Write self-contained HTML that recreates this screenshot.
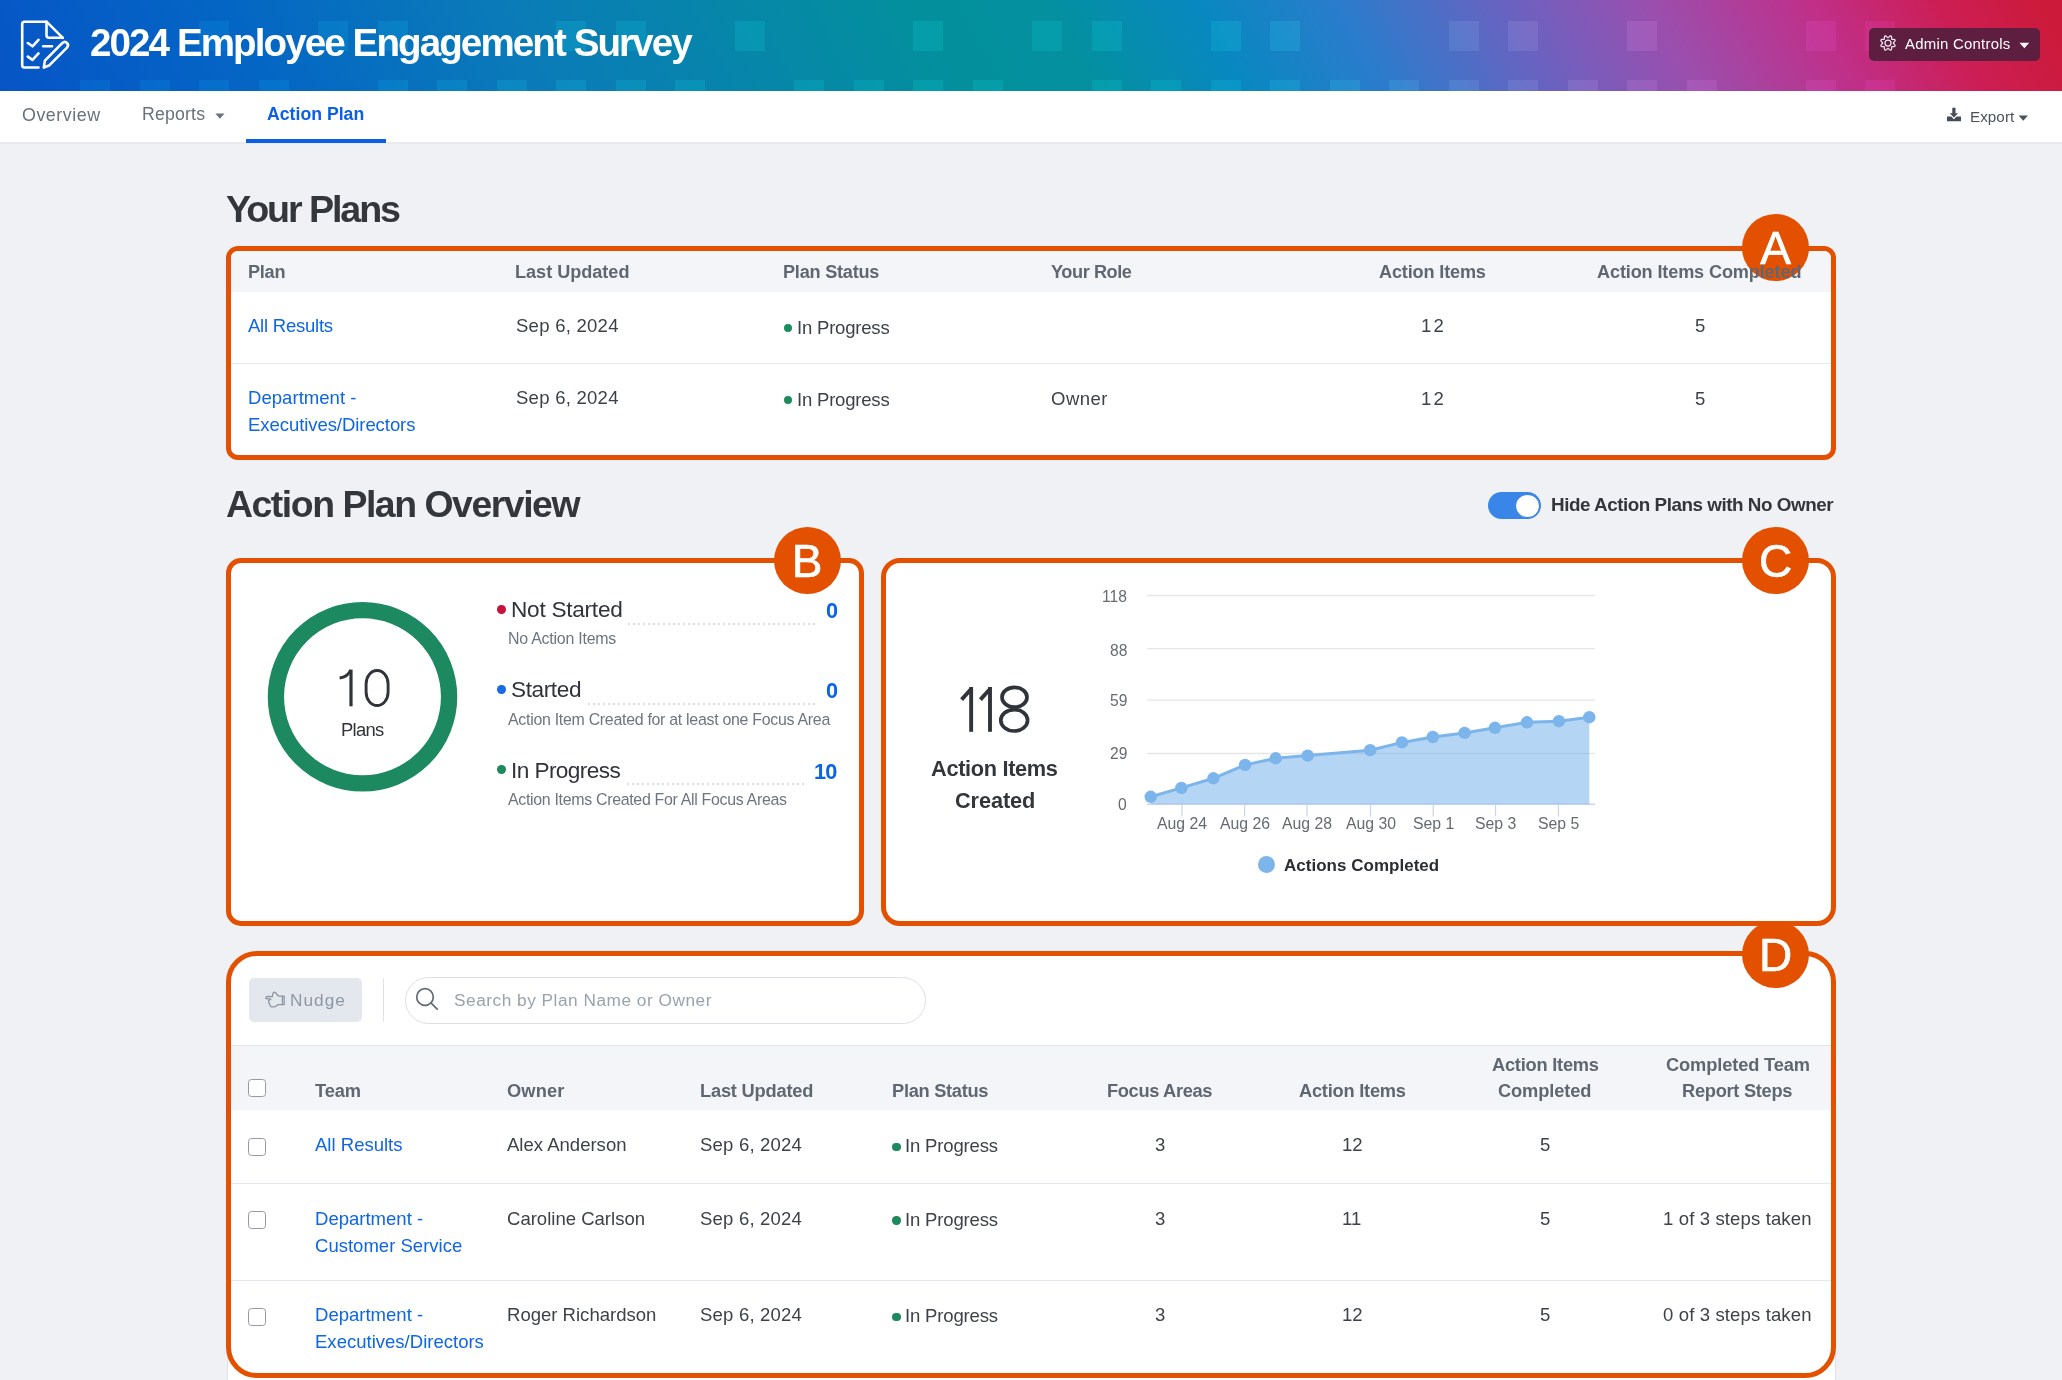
<!DOCTYPE html>
<html><head><meta charset="utf-8"><title>Action Plan</title>
<style>
html,body{margin:0;padding:0;}
body{width:2062px;height:1380px;overflow:hidden;position:relative;background:#eff1f5;font-family:"Liberation Sans",sans-serif;}
.a{position:absolute;box-sizing:border-box;}
.t{position:absolute;white-space:pre;font-family:"Liberation Sans",sans-serif;will-change:transform;}
.sq{position:absolute;width:30px;height:30px;background:rgba(255,255,255,0.12);mix-blend-mode:overlay;}
.ob{position:absolute;box-sizing:border-box;border:5px solid #e35000;}
.badge{position:absolute;width:67px;height:67px;border-radius:50%;background:#e35000;color:#fff;font-family:"Liberation Sans",sans-serif;font-size:46px;text-align:center;line-height:69px;-webkit-text-stroke:0.7px #fff;}
.cb{position:absolute;width:18px;height:18px;box-sizing:border-box;border:1.8px solid #959aa1;border-radius:3.5px;background:#fff;}
.dot{position:absolute;border-radius:50%;}
.lead{position:absolute;height:2px;background-image:linear-gradient(to right,#d9dde2 50%,transparent 50%);background-size:5px 2px;}
</style></head><body>
<!-- header -->
<div class="a" style="left:0;top:0;width:2062px;height:91px;background:linear-gradient(62deg,#0656c6 1%,#0466c4 13%,#0a7bb8 25.8%,#03909c 46%,#04909f 51.8%,#0888c0 58.9%,#2a7ccc 65.6%,#6a62c0 73.6%,#9a4fae 80.3%,#c02f88 88.1%,#cc1e55 94%,#cc1a3a 99%);overflow:hidden">
  <div class="sq" style="left:199.0px;top:21px"></div><div class="sq" style="left:318.0px;top:21px"></div><div class="sq" style="left:377.5px;top:21px"></div><div class="sq" style="left:556.0px;top:21px"></div><div class="sq" style="left:615.5px;top:21px"></div><div class="sq" style="left:734.5px;top:21px"></div><div class="sq" style="left:913.0px;top:21px"></div><div class="sq" style="left:1032.0px;top:21px"></div><div class="sq" style="left:1091.5px;top:21px"></div><div class="sq" style="left:1210.5px;top:21px"></div><div class="sq" style="left:1270.0px;top:21px"></div><div class="sq" style="left:1448.5px;top:21px"></div><div class="sq" style="left:1508.0px;top:21px"></div><div class="sq" style="left:1627.0px;top:21px"></div><div class="sq" style="left:1805.5px;top:21px"></div><div class="sq" style="left:1865.0px;top:21px"></div><div class="sq" style="left:80.0px;top:80px"></div><div class="sq" style="left:139.5px;top:80px"></div><div class="sq" style="left:199.0px;top:80px"></div><div class="sq" style="left:258.5px;top:80px"></div><div class="sq" style="left:377.5px;top:80px"></div><div class="sq" style="left:437.0px;top:80px"></div><div class="sq" style="left:496.5px;top:80px"></div><div class="sq" style="left:556.0px;top:80px"></div><div class="sq" style="left:615.5px;top:80px"></div><div class="sq" style="left:675.0px;top:80px"></div><div class="sq" style="left:794.0px;top:80px"></div><div class="sq" style="left:853.5px;top:80px"></div><div class="sq" style="left:913.0px;top:80px"></div><div class="sq" style="left:972.5px;top:80px"></div><div class="sq" style="left:1091.5px;top:80px"></div><div class="sq" style="left:1151.0px;top:80px"></div><div class="sq" style="left:1210.5px;top:80px"></div><div class="sq" style="left:1270.0px;top:80px"></div><div class="sq" style="left:1329.5px;top:80px"></div><div class="sq" style="left:1389.0px;top:80px"></div><div class="sq" style="left:1448.5px;top:80px"></div><div class="sq" style="left:1508.0px;top:80px"></div><div class="sq" style="left:1567.5px;top:80px"></div><div class="sq" style="left:1627.0px;top:80px"></div><div class="sq" style="left:1686.5px;top:80px"></div><div class="sq" style="left:1805.5px;top:80px"></div><div class="sq" style="left:1865.0px;top:80px"></div>
</div>
<!-- logo -->
<svg class="a" style="left:18px;top:18px" width="54" height="54" viewBox="18 18 54 54">
  <g fill="none" stroke="#fff" stroke-width="2.6" stroke-linecap="round" stroke-linejoin="round">
    <path d="M38.5 67.5 H24.5 Q22.2 67.5 22.2 65.2 V24 Q22.2 21.7 24.5 21.7 H46.5 L62.8 37.8"/>
    <path d="M46.5 21.9 V35.3 Q46.5 37.8 49 37.8 H62.8"/>
    <path d="M27.8 43 L32.5 46.3 L38.5 39.8"/>
    <path d="M27.8 56.6 L32.5 59.9 L38.5 53.4"/>
    <path d="M43.2 46.3 H52"/>
    <path d="M43.8 67.6 L44.9 60.6 L62.2 43.2 Q64.8 40.8 67 43 Q69.2 45.2 66.8 47.8 L49.5 65.2 Z"/>
  </g>
</svg>
<!-- admin button -->
<div class="a" style="left:1869px;top:28px;width:171px;height:33px;border-radius:5px;background:#5d1e40"></div>
<svg class="a" style="left:1879px;top:34.3px" width="18" height="18" viewBox="0 0 18 18">
  <g fill="none" stroke="#f1e6ec" stroke-width="1.25" stroke-linejoin="round">
    <path d="M14.35,9.00 L14.49,9.36 L14.87,9.77 L15.38,10.27 L15.83,10.83 L16.10,11.41 L16.07,11.93 L15.72,12.32 L15.13,12.54 L14.40,12.61 L13.70,12.61 L13.14,12.63 L12.78,12.78 L12.63,13.14 L12.61,13.70 L12.61,14.40 L12.54,15.13 L12.32,15.72 L11.93,16.07 L11.41,16.10 L10.83,15.83 L10.27,15.38 L9.77,14.87 L9.36,14.49 L9.00,14.35 L8.64,14.49 L8.23,14.87 L7.73,15.38 L7.17,15.83 L6.59,16.10 L6.07,16.07 L5.68,15.72 L5.46,15.13 L5.39,14.40 L5.39,13.70 L5.37,13.14 L5.22,12.78 L4.86,12.63 L4.30,12.61 L3.60,12.61 L2.87,12.54 L2.28,12.32 L1.93,11.93 L1.90,11.41 L2.17,10.83 L2.62,10.27 L3.13,9.77 L3.51,9.36 L3.65,9.00 L3.51,8.64 L3.13,8.23 L2.62,7.73 L2.17,7.17 L1.90,6.59 L1.93,6.07 L2.28,5.68 L2.87,5.46 L3.60,5.39 L4.30,5.39 L4.86,5.37 L5.22,5.22 L5.37,4.86 L5.39,4.30 L5.39,3.60 L5.46,2.87 L5.68,2.28 L6.07,1.93 L6.59,1.90 L7.17,2.17 L7.73,2.62 L8.23,3.13 L8.64,3.51 L9.00,3.65 L9.36,3.51 L9.77,3.13 L10.27,2.62 L10.83,2.17 L11.41,1.90 L11.93,1.93 L12.32,2.28 L12.54,2.87 L12.61,3.60 L12.61,4.30 L12.63,4.86 L12.78,5.22 L13.14,5.37 L13.70,5.39 L14.40,5.39 L15.13,5.46 L15.72,5.68 L16.07,6.07 L16.10,6.59 L15.83,7.17 L15.38,7.73 L14.87,8.23 L14.49,8.64 L14.35,9.00Z"/>
    <circle cx="9" cy="9" r="3"/>
  </g>
</svg>
<svg class="a" style="left:2019px;top:42px" width="11" height="7"><path d="M0.5 0.8 H10.2 L5.35 6.2Z" fill="#fff"/></svg>
<!-- nav -->
<div class="a" style="left:0;top:91px;width:2062px;height:53px;background:#fff;border-bottom:2px solid #e8eaee"></div>
<svg class="a" style="left:215px;top:113px" width="10" height="6"><path d="M0.3 0.5 H9.5 L4.9 5.8Z" fill="#6b7380"/></svg>
<div class="a" style="left:246px;top:139px;width:139.5px;height:3.6px;background:#0b5fe3"></div>
<svg class="a" style="left:1946px;top:107px" width="16" height="15" viewBox="0 0 16 15">
  <path d="M6.3 0.8h3.2v5.4h2.6L7.9 10.6 3.7 6.2h2.6z" fill="#464c54"/>
  <path d="M1 9.6h4.2l2.7 2.7 2.7-2.7H15v4.6H1z" fill="#464c54"/>
</svg>
<svg class="a" style="left:2018px;top:115px" width="11" height="7"><path d="M0.5 0.5 H10 L5.25 5.8Z" fill="#4d535a"/></svg>

<!-- ===== box A ===== -->
<div class="ob" style="left:226px;top:246px;width:1610px;height:214px;border-radius:12px;background:#fff;overflow:hidden">
  <div class="a" style="left:0;top:0;width:1600px;height:41px;background:#f4f5f8"></div>
  <div class="a" style="left:0;top:112px;width:1600px;height:1px;background:#e6e8ec"></div>
</div>
<div class="dot" style="left:784px;top:324.2px;width:8px;height:8px;background:#1d8a5c"></div>
<div class="dot" style="left:784px;top:396px;width:8px;height:8px;background:#1d8a5c"></div>
<div class="badge" style="left:1742px;top:214px">A</div>

<!-- toggle -->
<div class="a" style="left:1488px;top:492px;width:53px;height:27px;border-radius:14px;background:#3a86e8"></div>
<div class="a" style="left:1515px;top:493.5px;width:24.5px;height:24.5px;border-radius:50%;background:#fff;border:1px solid #2f7be0"></div>

<!-- ===== box B ===== -->
<div class="ob" style="left:226px;top:558px;width:638px;height:368px;border-radius:15px;background:#fff"></div>
<svg class="a" style="left:262px;top:596px" width="202" height="202" viewBox="0 0 202 202">
  <circle cx="100.5" cy="100.8" r="86.6" fill="none" stroke="#1c8960" stroke-width="16.3"/>
</svg>
<div class="dot" style="left:497.3px;top:604.8px;width:8.8px;height:8.8px;background:#c8123c"></div>
<div class="dot" style="left:497.3px;top:684.8px;width:8.8px;height:8.8px;background:#1a6ae6"></div>
<div class="dot" style="left:497.3px;top:765.3px;width:8.8px;height:8.8px;background:#1d8a5c"></div>
<div class="lead" style="left:628px;top:623px;width:190px"></div>
<div class="lead" style="left:588px;top:703px;width:230px"></div>
<div class="lead" style="left:627px;top:783px;width:180px"></div>
<div class="badge" style="left:773.5px;top:526.5px">B</div>

<!-- ===== box C ===== -->
<div class="ob" style="left:881px;top:558px;width:955px;height:368px;border-radius:19px;background:#fff"></div>
<svg class="a" style="left:1140px;top:585px" width="470" height="240" viewBox="1140 585 470 240">
  <g stroke="#e6e6e6" stroke-width="1.3">
    <line x1="1147" y1="595.5" x2="1595" y2="595.5"/>
    <line x1="1147" y1="648.7" x2="1595" y2="648.7"/>
    <line x1="1147" y1="700.2" x2="1595" y2="700.2"/>
    <line x1="1147" y1="753.5" x2="1595" y2="753.5"/>
  </g>
  <line x1="1147" y1="804.3" x2="1595" y2="804.3" stroke="#ccd6eb" stroke-width="1.5"/>
  <g stroke="#ccd6eb" stroke-width="1.3">
    <line x1="1182" y1="804" x2="1182" y2="816.5"/>
    <line x1="1244.6" y1="804" x2="1244.6" y2="816.5"/>
    <line x1="1307" y1="804" x2="1307" y2="816.5"/>
    <line x1="1370.5" y1="804" x2="1370.5" y2="816.5"/>
    <line x1="1433.3" y1="804" x2="1433.3" y2="816.5"/>
    <line x1="1495.5" y1="804" x2="1495.5" y2="816.5"/>
    <line x1="1558.4" y1="804" x2="1558.4" y2="816.5"/>
  </g>
  <path id="area" d="M1150.7,796.8 L1181.4,787.9 L1213.4,778.3 L1245.1,764.9 L1275.7,758.3 L1307.7,755.6 L1370.2,750.2 L1402,742.4 L1432.8,737 L1464.6,732.9 L1495,727.8 L1527,722.3 L1558.9,721.2 L1589.3,717.2 L1589.3,804.3 L1150.7,804.3 Z" fill="rgba(124,181,236,0.57)"/>
  <path id="line" d="M1150.7,796.8 L1181.4,787.9 L1213.4,778.3 L1245.1,764.9 L1275.7,758.3 L1307.7,755.6 L1370.2,750.2 L1402,742.4 L1432.8,737 L1464.6,732.9 L1495,727.8 L1527,722.3 L1558.9,721.2 L1589.3,717.2" fill="none" stroke="#7cb5ec" stroke-width="3" stroke-linejoin="round"/>
  <g id="markers" fill="#7cb5ec"><circle cx="1150.7" cy="796.8" r="6.2"/><circle cx="1181.4" cy="787.9" r="6.2"/><circle cx="1213.4" cy="778.3" r="6.2"/><circle cx="1245.1" cy="764.9" r="6.2"/><circle cx="1275.7" cy="758.3" r="6.2"/><circle cx="1307.7" cy="755.6" r="6.2"/><circle cx="1370.2" cy="750.2" r="6.2"/><circle cx="1402" cy="742.4" r="6.2"/><circle cx="1432.8" cy="737" r="6.2"/><circle cx="1464.6" cy="732.9" r="6.2"/><circle cx="1495" cy="727.8" r="6.2"/><circle cx="1527" cy="722.3" r="6.2"/><circle cx="1558.9" cy="721.2" r="6.2"/><circle cx="1589.3" cy="717.2" r="6.2"/></g>
</svg>
<div class="dot" style="left:1258px;top:856.2px;width:17px;height:17px;background:#7cb5ec"></div>
<div class="badge" style="left:1742px;top:526.5px">C</div>

<!-- ===== box D ===== -->
<div class="a" style="left:227px;top:1340px;width:1609px;height:60px;background:#fff;border-left:1px solid #dfe2e6;border-right:1px solid #dfe2e6"></div>
<div class="ob" style="left:226px;top:951px;width:1610px;height:427px;border-radius:31px;overflow:hidden;background:#fff">
  <div class="a" style="left:0;top:89px;width:1600px;height:65px;background:#f4f5f8;border-top:1px solid #e3e6ea"></div>
  <div class="a" style="left:0;top:227px;width:1600px;height:1px;background:#e6e8ee"></div>
  <div class="a" style="left:0;top:324px;width:1600px;height:1px;background:#e6e8ee"></div>
</div>
<div class="a" style="left:249px;top:978px;width:113px;height:44px;border-radius:5px;background:#e4e8ee"></div>
<svg class="a" style="left:264px;top:989px" width="22" height="20" viewBox="0 0 22 20">
  <g fill="none" stroke="#8e97a3" stroke-width="1.3" stroke-linejoin="round" stroke-linecap="round">
    <path d="M2 9.5 Q1.5 7.6 3.6 7.4 L8.4 7.6 L8.8 5 Q9.6 2.5 11.3 3.5 L14.6 7.2 H18.4 V15.6 H14.2 L11 17.8 H7.5 Q6 17.6 6.2 16 Q4.8 15.4 5.3 14 Q4 13.2 4.6 11.8 L6.8 10.2 Z"/>
    <path d="M18.4 7.2 H20.2 V15.6 H18.4"/>
  </g>
</svg>
<div class="a" style="left:383px;top:978px;width:1px;height:44px;background:#dfe2e6"></div>
<div class="a" style="left:405px;top:977px;width:521px;height:46.5px;border-radius:23.5px;background:#fff;border:1.3px solid #dde1e6"></div>
<svg class="a" style="left:414px;top:986px" width="26" height="26" viewBox="0 0 26 26">
  <g fill="none" stroke="#646b73" stroke-width="1.7" stroke-linecap="round">
    <circle cx="11" cy="11" r="8.3"/>
    <path d="M17.2 17.2 L23.2 23.2"/>
  </g>
</svg>
<div class="cb" style="left:248px;top:1079px"></div>
<div class="cb" style="left:248px;top:1137.5px"></div>
<div class="cb" style="left:248px;top:1210.5px"></div>
<div class="cb" style="left:248px;top:1307.5px"></div>
<div class="dot" style="left:892.4px;top:1143px;width:8.4px;height:8.4px;background:#1d8a5c"></div>
<div class="dot" style="left:892.4px;top:1216.4px;width:8.4px;height:8.4px;background:#1d8a5c"></div>
<div class="dot" style="left:892.4px;top:1313px;width:8.4px;height:8.4px;background:#1d8a5c"></div>
<div class="badge" style="left:1742px;top:920.5px">D</div>

<!-- big numbers -->
<svg class="a" style="left:330px;top:660px" width="70" height="55" viewBox="330 660 70 55">
  <g fill="none" stroke="#30343a" stroke-width="3.2">
    <path d="M351 706.3 V669.6" stroke-linecap="butt"/>
    <path d="M339.6 678 Q348 677 350.6 670" stroke-width="2.8"/>
    <rect x="366.1" y="670.5" width="22" height="35" rx="11" ry="13.5" stroke-width="2.9"/>
  </g>
</svg>
<svg class="a" style="left:950px;top:675px" width="90" height="65" viewBox="950 675 90 65">
  <g fill="none" stroke="#30343a" stroke-width="3.9">
    <path d="M971.15 731.8 V687"/>
    <path d="M961.6 699.6 L971.1 689"/>
    <path d="M990 731.8 V687"/>
    <path d="M980.4 699.6 L990 689"/>
    <ellipse cx="1014.5" cy="697.3" rx="12.5" ry="9.9" stroke-width="3.7"/>
    <ellipse cx="1014.2" cy="720.3" rx="13.4" ry="10.7" stroke-width="3.7"/>
  </g>
</svg>

<div class="t" style="left:90.3px;top:24.1px;font-size:38.55px;line-height:38.55px;font-weight:700;color:#ffffff;letter-spacing:-1.906px;">2024 Employee Engagement Survey</div>
<div class="t" style="left:1904.9px;top:37.2px;font-size:14.93px;line-height:14.93px;font-weight:400;color:#ffffff;letter-spacing:0.245px;">Admin Controls</div>
<div class="t" style="left:21.6px;top:106.7px;font-size:17.83px;line-height:17.83px;font-weight:400;color:#69717c;letter-spacing:0.545px;">Overview</div>
<div class="t" style="left:141.7px;top:106.4px;font-size:17.68px;line-height:17.68px;font-weight:400;color:#69717c;letter-spacing:0.187px;">Reports</div>
<div class="t" style="left:267.3px;top:106.4px;font-size:17.68px;line-height:17.68px;font-weight:700;color:#0b5fe3;letter-spacing:-0.000px;">Action Plan</div>
<div class="t" style="left:1970.4px;top:109.0px;font-size:15.22px;line-height:15.22px;font-weight:400;color:#4d535a;letter-spacing:0.047px;">Export</div>
<div class="t" style="left:226.0px;top:190.9px;font-size:37.68px;line-height:37.68px;font-weight:700;color:#33373b;letter-spacing:-2.110px;">Your Plans</div>
<div class="t" style="left:226.0px;top:485.6px;font-size:37.39px;line-height:37.39px;font-weight:700;color:#33373b;letter-spacing:-1.458px;">Action Plan Overview</div>
<div class="t" style="left:1551.2px;top:496.4px;font-size:18.84px;line-height:18.84px;font-weight:700;color:#33373b;letter-spacing:-0.463px;">Hide Action Plans with No Owner</div>
<div class="t" style="left:248.3px;top:263.1px;font-size:18.12px;line-height:18.12px;font-weight:700;color:#5f6772;letter-spacing:-0.267px;">Plan</div>
<div class="t" style="left:515.3px;top:263.1px;font-size:18.12px;line-height:18.12px;font-weight:700;color:#5f6772;letter-spacing:-0.024px;">Last Updated</div>
<div class="t" style="left:783.3px;top:263.1px;font-size:18.12px;line-height:18.12px;font-weight:700;color:#5f6772;letter-spacing:-0.218px;">Plan Status</div>
<div class="t" style="left:1050.8px;top:263.1px;font-size:18.12px;line-height:18.12px;font-weight:700;color:#5f6772;letter-spacing:-0.405px;">Your Role</div>
<div class="t" style="left:1378.5px;top:263.1px;font-size:18.12px;line-height:18.12px;font-weight:700;color:#5f6772;letter-spacing:-0.158px;">Action Items</div>
<div class="t" style="left:1597.0px;top:263.1px;font-size:18.12px;line-height:18.12px;font-weight:700;color:#5f6772;letter-spacing:-0.135px;">Action Items Completed</div>
<div class="t" style="left:248.3px;top:317.1px;font-size:18.55px;line-height:18.55px;font-weight:400;color:#0f66e3;letter-spacing:-0.246px;">All Results</div>
<div class="t" style="left:515.8px;top:317.1px;font-size:18.55px;line-height:18.55px;font-weight:400;color:#3d4249;letter-spacing:0.253px;">Sep 6, 2024</div>
<div class="t" style="left:797.1px;top:318.5px;font-size:18.55px;line-height:18.55px;font-weight:400;color:#3d4249;letter-spacing:-0.208px;">In Progress</div>
<div class="t" style="left:1421.0px;top:317.1px;font-size:18.55px;line-height:18.55px;font-weight:400;color:#3d4249;letter-spacing:2.159px;">12</div>
<div class="t" style="left:1694.8px;top:317.1px;font-size:18.55px;line-height:18.55px;font-weight:400;color:#3d4249;letter-spacing:0.000px;">5</div>
<div class="t" style="left:248.3px;top:389.3px;font-size:18.55px;line-height:18.55px;font-weight:400;color:#0f66e3;letter-spacing:0.031px;">Department -</div>
<div class="t" style="left:248.3px;top:415.7px;font-size:18.55px;line-height:18.55px;font-weight:400;color:#0f66e3;letter-spacing:-0.074px;">Executives/Directors</div>
<div class="t" style="left:515.8px;top:389.3px;font-size:18.55px;line-height:18.55px;font-weight:400;color:#3d4249;letter-spacing:0.253px;">Sep 6, 2024</div>
<div class="t" style="left:797.1px;top:390.8px;font-size:18.55px;line-height:18.55px;font-weight:400;color:#3d4249;letter-spacing:-0.208px;">In Progress</div>
<div class="t" style="left:1050.8px;top:389.6px;font-size:18.55px;line-height:18.55px;font-weight:400;color:#3d4249;letter-spacing:0.473px;">Owner</div>
<div class="t" style="left:1421.0px;top:389.6px;font-size:18.55px;line-height:18.55px;font-weight:400;color:#3d4249;letter-spacing:2.159px;">12</div>
<div class="t" style="left:1694.8px;top:389.6px;font-size:18.55px;line-height:18.55px;font-weight:400;color:#3d4249;letter-spacing:0.000px;">5</div>
<div class="t" style="left:341.1px;top:721.3px;font-size:18.41px;line-height:18.41px;font-weight:400;color:#30343a;letter-spacing:-0.719px;">Plans</div>
<div class="t" style="left:511.1px;top:599.0px;font-size:22.61px;line-height:22.61px;font-weight:400;color:#30343a;letter-spacing:-0.257px;">Not Started</div>
<div class="t" style="left:511.1px;top:679.4px;font-size:22.61px;line-height:22.61px;font-weight:400;color:#30343a;letter-spacing:-0.400px;">Started</div>
<div class="t" style="left:511.1px;top:760.0px;font-size:22.61px;line-height:22.61px;font-weight:400;color:#30343a;letter-spacing:-0.580px;">In Progress</div>
<div class="t" style="left:825.8px;top:599.7px;font-size:21.74px;line-height:21.74px;font-weight:700;color:#0b63e5;letter-spacing:0.000px;">0</div>
<div class="t" style="left:825.8px;top:680.1px;font-size:21.74px;line-height:21.74px;font-weight:700;color:#0b63e5;letter-spacing:0.000px;">0</div>
<div class="t" style="left:814.4px;top:760.7px;font-size:21.74px;line-height:21.74px;font-weight:700;color:#0b63e5;letter-spacing:-0.748px;">10</div>
<div class="t" style="left:508.4px;top:631.3px;font-size:15.94px;line-height:15.94px;font-weight:400;color:#6d7580;letter-spacing:-0.238px;">No Action Items</div>
<div class="t" style="left:508.4px;top:712.3px;font-size:15.94px;line-height:15.94px;font-weight:400;color:#6d7580;letter-spacing:-0.293px;">Action Item Created for at least one Focus Area</div>
<div class="t" style="left:508.4px;top:791.6px;font-size:15.94px;line-height:15.94px;font-weight:400;color:#6d7580;letter-spacing:-0.319px;">Action Items Created For All Focus Areas</div>
<div class="t" style="left:931.4px;top:758.3px;font-size:21.74px;line-height:21.74px;font-weight:700;color:#33373b;letter-spacing:-0.318px;">Action Items</div>
<div class="t" style="left:954.5px;top:789.6px;font-size:21.74px;line-height:21.74px;font-weight:700;color:#33373b;letter-spacing:-0.100px;">Created</div>
<div class="t" style="left:1102.0px;top:589.3px;font-size:15.65px;line-height:15.65px;font-weight:400;color:#666b70;letter-spacing:0.000px;">118</div>
<div class="t" style="left:1109.5px;top:642.6px;font-size:15.65px;line-height:15.65px;font-weight:400;color:#666b70;letter-spacing:0.000px;">88</div>
<div class="t" style="left:1109.5px;top:692.9px;font-size:15.65px;line-height:15.65px;font-weight:400;color:#666b70;letter-spacing:0.000px;">59</div>
<div class="t" style="left:1109.5px;top:745.7px;font-size:15.65px;line-height:15.65px;font-weight:400;color:#666b70;letter-spacing:0.000px;">29</div>
<div class="t" style="left:1118.2px;top:796.6px;font-size:15.65px;line-height:15.65px;font-weight:400;color:#666b70;letter-spacing:0.000px;">0</div>
<div class="t" style="left:1157.0px;top:815.7px;font-size:15.80px;line-height:15.80px;font-weight:400;color:#666b70;letter-spacing:0.000px;">Aug 24</div>
<div class="t" style="left:1219.6px;top:815.7px;font-size:15.80px;line-height:15.80px;font-weight:400;color:#666b70;letter-spacing:0.000px;">Aug 26</div>
<div class="t" style="left:1282.0px;top:815.7px;font-size:15.80px;line-height:15.80px;font-weight:400;color:#666b70;letter-spacing:0.000px;">Aug 28</div>
<div class="t" style="left:1345.5px;top:815.7px;font-size:15.80px;line-height:15.80px;font-weight:400;color:#666b70;letter-spacing:0.000px;">Aug 30</div>
<div class="t" style="left:1412.7px;top:815.7px;font-size:15.80px;line-height:15.80px;font-weight:400;color:#666b70;letter-spacing:0.000px;">Sep 1</div>
<div class="t" style="left:1474.9px;top:815.7px;font-size:15.80px;line-height:15.80px;font-weight:400;color:#666b70;letter-spacing:0.000px;">Sep 3</div>
<div class="t" style="left:1537.8px;top:815.7px;font-size:15.80px;line-height:15.80px;font-weight:400;color:#666b70;letter-spacing:0.000px;">Sep 5</div>
<div class="t" style="left:1283.7px;top:857.7px;font-size:16.96px;line-height:16.96px;font-weight:700;color:#2a2d31;letter-spacing:0.051px;">Actions Completed</div>
<div class="t" style="left:289.6px;top:991.8px;font-size:17.25px;line-height:17.25px;font-weight:400;color:#8e97a3;letter-spacing:1.009px;">Nudge</div>
<div class="t" style="left:453.7px;top:991.8px;font-size:17.25px;line-height:17.25px;font-weight:400;color:#9aa2ad;letter-spacing:0.513px;">Search by Plan Name or Owner</div>
<div class="t" style="left:314.7px;top:1082.4px;font-size:18.26px;line-height:18.26px;font-weight:700;color:#5f6772;letter-spacing:-0.122px;">Team</div>
<div class="t" style="left:507.3px;top:1082.4px;font-size:18.26px;line-height:18.26px;font-weight:700;color:#5f6772;letter-spacing:0.166px;">Owner</div>
<div class="t" style="left:700.1px;top:1082.4px;font-size:18.26px;line-height:18.26px;font-weight:700;color:#5f6772;letter-spacing:-0.195px;">Last Updated</div>
<div class="t" style="left:892.3px;top:1082.4px;font-size:18.26px;line-height:18.26px;font-weight:700;color:#5f6772;letter-spacing:-0.293px;">Plan Status</div>
<div class="t" style="left:1107.3px;top:1082.4px;font-size:18.26px;line-height:18.26px;font-weight:700;color:#5f6772;letter-spacing:-0.341px;">Focus Areas</div>
<div class="t" style="left:1298.5px;top:1082.4px;font-size:18.26px;line-height:18.26px;font-weight:700;color:#5f6772;letter-spacing:-0.234px;">Action Items</div>
<div class="t" style="left:1491.5px;top:1055.6px;font-size:18.26px;line-height:18.26px;font-weight:700;color:#5f6772;letter-spacing:-0.234px;">Action Items</div>
<div class="t" style="left:1498.3px;top:1082.1px;font-size:18.26px;line-height:18.26px;font-weight:700;color:#5f6772;letter-spacing:-0.106px;">Completed</div>
<div class="t" style="left:1665.6px;top:1055.6px;font-size:18.26px;line-height:18.26px;font-weight:700;color:#5f6772;letter-spacing:-0.125px;">Completed Team</div>
<div class="t" style="left:1682.4px;top:1082.1px;font-size:18.26px;line-height:18.26px;font-weight:700;color:#5f6772;letter-spacing:-0.283px;">Report Steps</div>
<div class="t" style="left:314.7px;top:1136.1px;font-size:18.55px;line-height:18.55px;font-weight:400;color:#0f66e3;letter-spacing:0.000px;">All Results</div>
<div class="t" style="left:507.3px;top:1136.1px;font-size:18.55px;line-height:18.55px;font-weight:400;color:#3d4249;letter-spacing:0.000px;">Alex Anderson</div>
<div class="t" style="left:700.1px;top:1136.1px;font-size:18.55px;line-height:18.55px;font-weight:400;color:#3d4249;letter-spacing:0.193px;">Sep 6, 2024</div>
<div class="t" style="left:905.3px;top:1137.3px;font-size:18.55px;line-height:18.55px;font-weight:400;color:#3d4249;letter-spacing:-0.168px;">In Progress</div>
<div class="t" style="left:1154.8px;top:1136.1px;font-size:18.55px;line-height:18.55px;font-weight:400;color:#3d4249;letter-spacing:0.000px;">3</div>
<div class="t" style="left:1341.7px;top:1136.1px;font-size:18.55px;line-height:18.55px;font-weight:400;color:#3d4249;letter-spacing:0.000px;">12</div>
<div class="t" style="left:1539.8px;top:1136.1px;font-size:18.55px;line-height:18.55px;font-weight:400;color:#3d4249;letter-spacing:0.000px;">5</div>
<div class="t" style="left:314.7px;top:1209.5px;font-size:18.55px;line-height:18.55px;font-weight:400;color:#0f66e3;letter-spacing:0.000px;">Department -</div>
<div class="t" style="left:314.7px;top:1236.5px;font-size:18.55px;line-height:18.55px;font-weight:400;color:#0f66e3;letter-spacing:0.000px;">Customer Service</div>
<div class="t" style="left:507.3px;top:1209.5px;font-size:18.55px;line-height:18.55px;font-weight:400;color:#3d4249;letter-spacing:0.000px;">Caroline Carlson</div>
<div class="t" style="left:700.1px;top:1209.5px;font-size:18.55px;line-height:18.55px;font-weight:400;color:#3d4249;letter-spacing:0.193px;">Sep 6, 2024</div>
<div class="t" style="left:905.3px;top:1210.7px;font-size:18.55px;line-height:18.55px;font-weight:400;color:#3d4249;letter-spacing:-0.168px;">In Progress</div>
<div class="t" style="left:1154.8px;top:1209.5px;font-size:18.55px;line-height:18.55px;font-weight:400;color:#3d4249;letter-spacing:0.000px;">3</div>
<div class="t" style="left:1342.4px;top:1209.5px;font-size:18.55px;line-height:18.55px;font-weight:400;color:#3d4249;letter-spacing:0.000px;">11</div>
<div class="t" style="left:1539.8px;top:1209.5px;font-size:18.55px;line-height:18.55px;font-weight:400;color:#3d4249;letter-spacing:0.000px;">5</div>
<div class="t" style="left:1662.8px;top:1209.5px;font-size:18.55px;line-height:18.55px;font-weight:400;color:#3d4249;letter-spacing:0.129px;">1 of 3 steps taken</div>
<div class="t" style="left:314.7px;top:1306.1px;font-size:18.55px;line-height:18.55px;font-weight:400;color:#0f66e3;letter-spacing:0.000px;">Department -</div>
<div class="t" style="left:314.7px;top:1333.1px;font-size:18.55px;line-height:18.55px;font-weight:400;color:#0f66e3;letter-spacing:0.000px;">Executives/Directors</div>
<div class="t" style="left:507.3px;top:1306.1px;font-size:18.55px;line-height:18.55px;font-weight:400;color:#3d4249;letter-spacing:0.000px;">Roger Richardson</div>
<div class="t" style="left:700.1px;top:1306.1px;font-size:18.55px;line-height:18.55px;font-weight:400;color:#3d4249;letter-spacing:0.193px;">Sep 6, 2024</div>
<div class="t" style="left:905.3px;top:1307.3px;font-size:18.55px;line-height:18.55px;font-weight:400;color:#3d4249;letter-spacing:-0.168px;">In Progress</div>
<div class="t" style="left:1154.8px;top:1306.1px;font-size:18.55px;line-height:18.55px;font-weight:400;color:#3d4249;letter-spacing:0.000px;">3</div>
<div class="t" style="left:1341.7px;top:1306.1px;font-size:18.55px;line-height:18.55px;font-weight:400;color:#3d4249;letter-spacing:0.000px;">12</div>
<div class="t" style="left:1539.8px;top:1306.1px;font-size:18.55px;line-height:18.55px;font-weight:400;color:#3d4249;letter-spacing:0.000px;">5</div>
<div class="t" style="left:1662.8px;top:1306.1px;font-size:18.55px;line-height:18.55px;font-weight:400;color:#3d4249;letter-spacing:0.129px;">0 of 3 steps taken</div>
</body></html>
